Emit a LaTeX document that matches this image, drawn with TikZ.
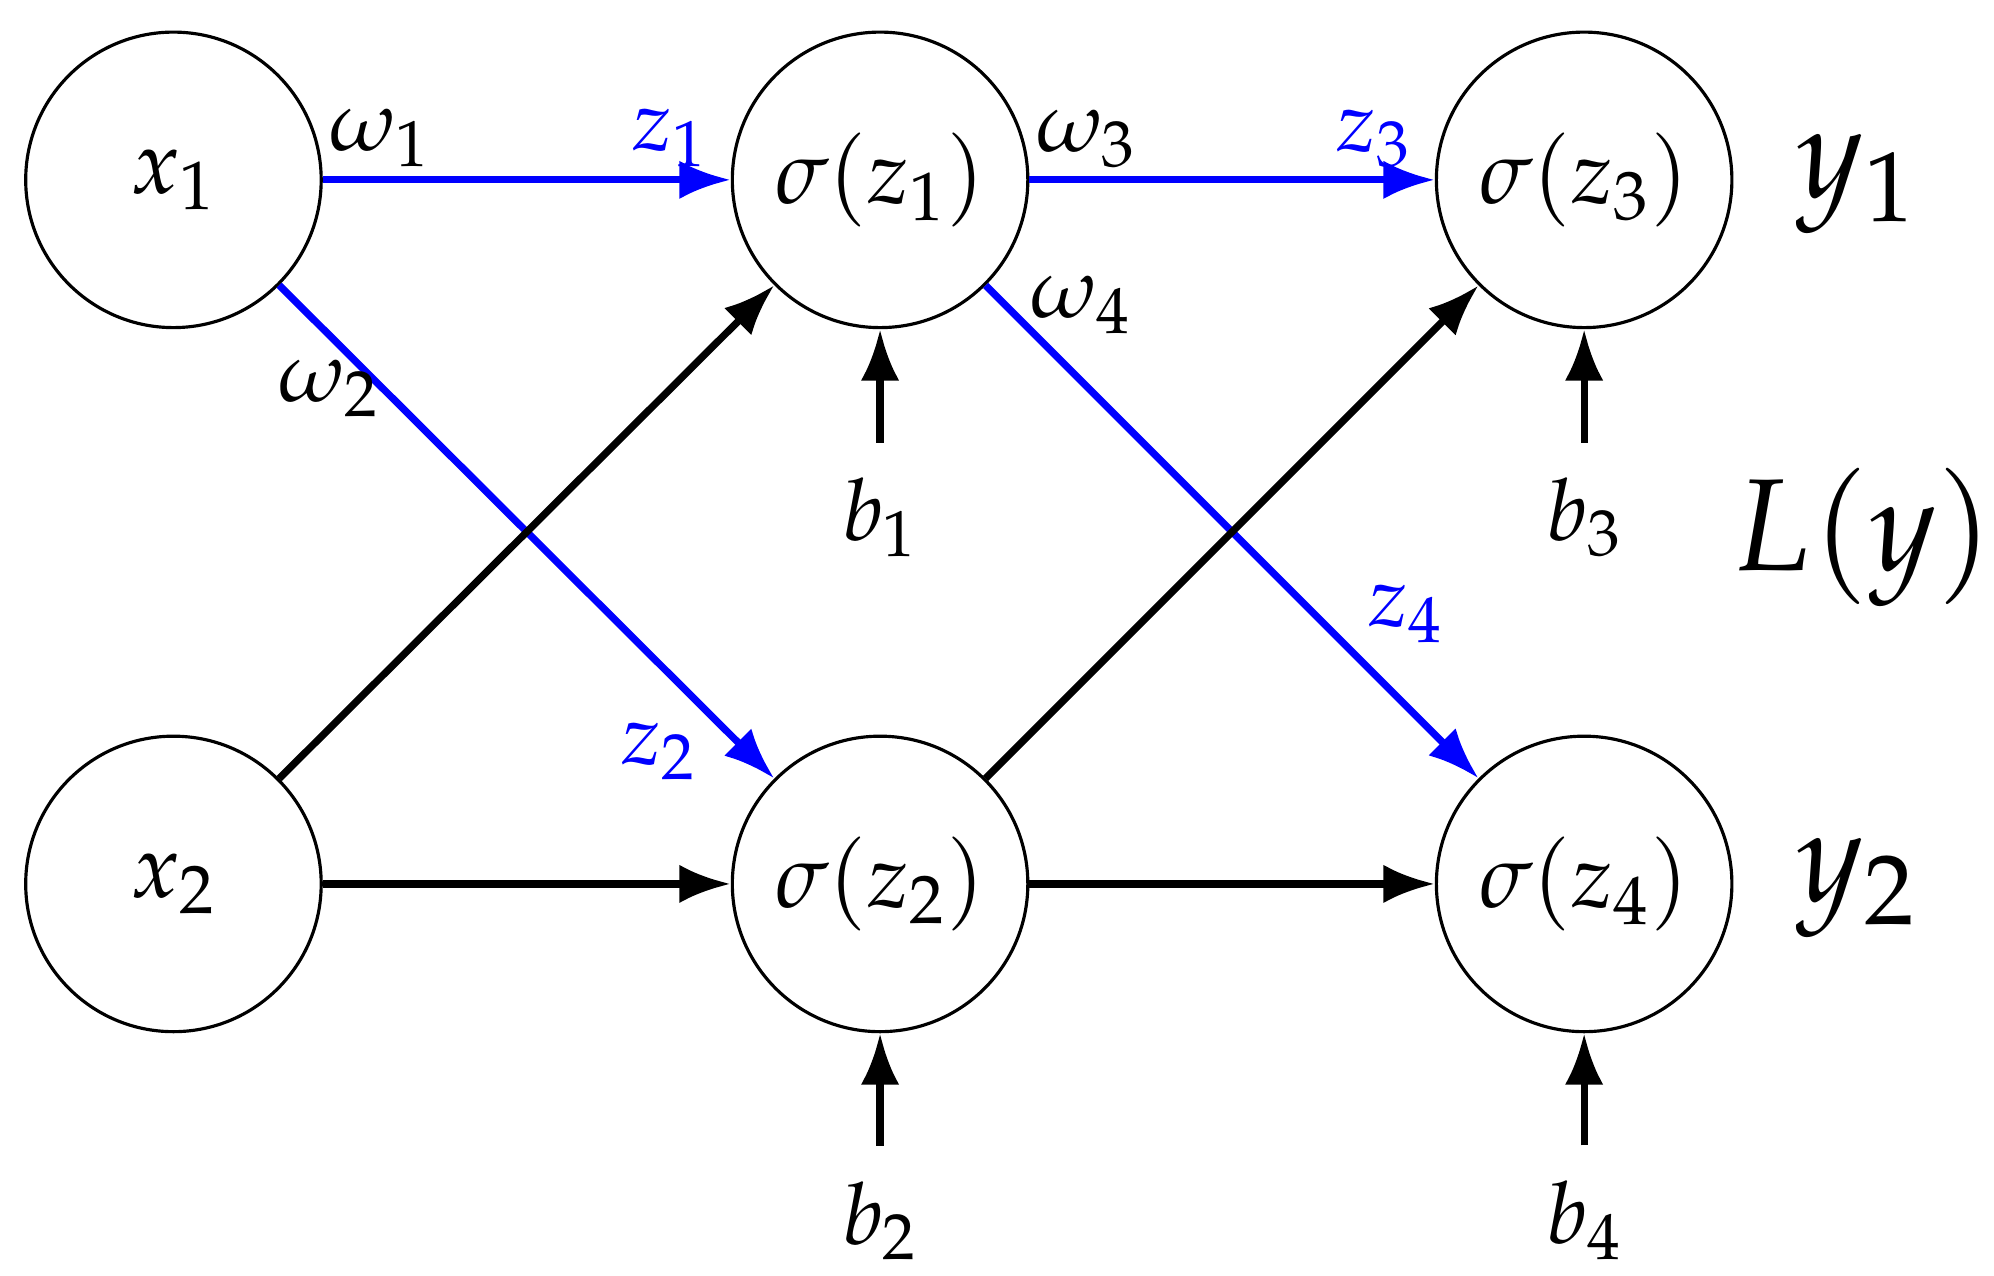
\documentclass[tikz,border=0pt]{standalone}
\usepackage{amsmath,mathpazo}
\usetikzlibrary{arrows.meta,positioning}
\begin{document}
\begin{tikzpicture}[>={Latex[length=4mm,width=3mm]},
    neuron/.style={circle,draw,line width=0.7pt,minimum size=2.3cm,inner sep=0pt,font=\fontsize{20}{24}\selectfont},
    wire/.style={->,line width=1.6pt},
    hot/.style={wire,blue},
    lab/.style={font=\fontsize{19}{23}\selectfont,inner sep=2pt},
    blab/.style={lab,text=blue},
    big/.style={font=\fontsize{29}{33}\selectfont}]
    \useasboundingbox (0,0) rectangle (15.52,9.93);

    \node[neuron] (x1) at (1.35,8.53) {$x_1$};
    \node[neuron] (x2) at (1.35,3.05) {$x_2$};
    \node[neuron] (s1) at (6.85,8.53) {$\sigma(z_1)$};
    \node[neuron] (s2) at (6.85,3.05) {$\sigma(z_2)$};
    \node[neuron] (s3) at (12.33,8.53) {$\sigma(z_3)$};
    \node[neuron] (s4) at (12.33,3.05) {$\sigma(z_4)$};

    \node[lab] (b1) at (6.85,5.9) {$b_1$};
    \node[lab] (b2) at (6.85,0.43) {$b_2$};
    \node[lab] (b3) at (12.33,5.9) {$b_3$};
    \node[lab] (b4) at (12.33,0.43) {$b_4$};

    \node[big] (y1) at (14.45,8.5) {$y_1$};
    \node[big] (L)  at (14.5,5.75) {$L(y)$};
    \node[big] (y2) at (14.45,3.02) {$y_2$};

    \draw[hot] (x1) -- node[pos=0.14,above,lab,text=black] {$\omega_1$} node[pos=0.85,above,blab] {$z_1$} (s1);
    \draw[hot] (x1) -- node[pos=0.1,below,lab,text=black,yshift=-1mm] {$\omega_2$} node[pos=0.92,left,blab,xshift=-2mm,yshift=-1mm] {$z_2$} (s2);
    \draw[wire] (x2) -- (s1);
    \draw[wire] (x2) -- (s2);
    \draw[hot] (s1) -- node[pos=0.14,above,lab,text=black] {$\omega_3$} node[pos=0.85,above,blab] {$z_3$} (s3);
    \draw[hot] (s1) -- node[pos=0.04,right,lab,text=black,xshift=1mm] {$\omega_4$} node[pos=0.75,above right,blab] {$z_4$} (s4);
    \draw[wire] (s2) -- (s3);
    \draw[wire] (s2) -- (s4);

    \foreach \b/\s in {b1/s1,b2/s2,b3/s3,b4/s4}
      \draw[wire] ([yshift=2mm]\b.north) -- (\s);
\end{tikzpicture}
\end{document}
